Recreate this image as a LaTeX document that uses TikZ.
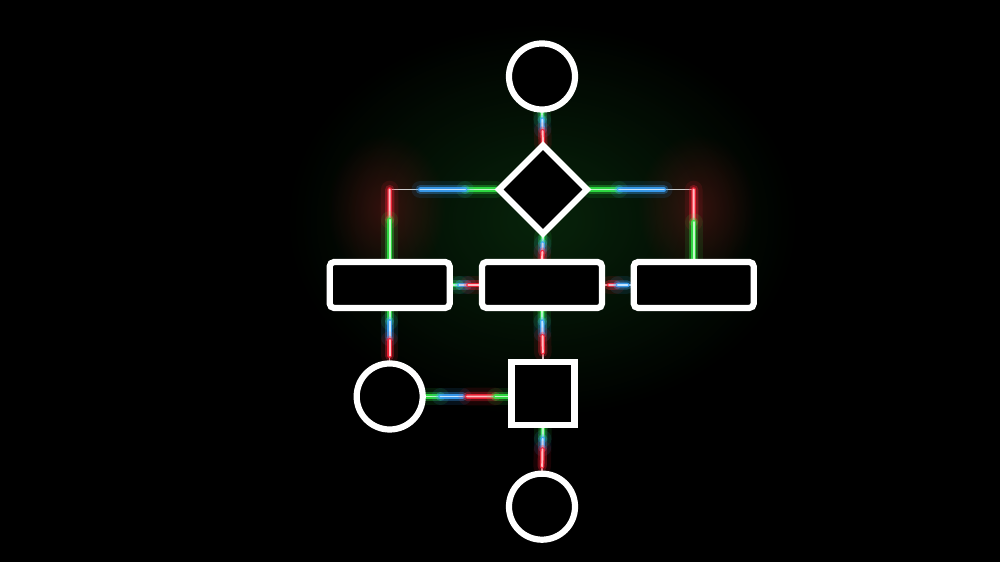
\documentclass[tikz,border=0pt]{standalone}
\usetikzlibrary{shapes.geometric,calc,fadings}
\tikzfading[name=glowfade, inner color=transparent!0, outer color=transparent!100]
\definecolor{ngreen}{RGB}{50,235,70}
\definecolor{nblue}{RGB}{60,165,255}
\definecolor{nred}{RGB}{255,35,55}
\pgfdeclarelayer{bg}
\pgfdeclarelayer{glow}
\pgfsetlayers{bg,glow,main}
\tikzset{
  shapeline/.style={draw=white, line width=0.062cm, fill=black, inner sep=0pt, outer sep=0pt},
  circ/.style={shapeline, circle, minimum size=0.66cm},
  rbox/.style={shapeline, rectangle, rounded corners=0.045cm, minimum width=1.20cm, minimum height=0.46cm},
  sqbox/.style={shapeline, rectangle, minimum size=0.63cm},
  dia/.style={shapeline, diamond, aspect=1, minimum width=0.88cm, minimum height=0.88cm},
  core/.style={draw=white!80!black, line width=0.45pt},
  glowhalo/.style={draw=#1, line width=5pt, opacity=0.10, line cap=round},
  glowwide/.style={draw=#1, line width=2.6pt, opacity=0.30, line cap=round},
  glowmid/.style={draw=#1, line width=1.3pt, opacity=0.85, line cap=round},
  glowcore/.style={draw=#1!30!white, line width=0.55pt, line cap=round},
}
\newcommand\neonseg[5]{%
  \path ($(#1)!#3!(#2)$) coordinate (sa) ($(#1)!#4!(#2)$) coordinate (sb);
  \draw[glowhalo=#5] (sa) -- (sb);
  \draw[glowwide=#5] (sa) -- (sb);
  \draw[glowmid=#5] (sa) -- (sb);
  \draw[glowcore=#5] (sa) -- (sb);
}
\begin{document}
\begin{tikzpicture}[x=0.01cm, y=-0.01cm]
\begin{pgfonlayer}{bg}
  \fill[black] (0,0) rectangle (1000,562);
  \fill[ngreen!50!black, opacity=0.30, path fading=glowfade] (542,220) ellipse [x radius=2.6cm, y radius=2.0cm];
  \fill[nred, opacity=0.20, path fading=glowfade] (386,208) ellipse [x radius=0.6cm, y radius=0.75cm];
  \fill[nred, opacity=0.20, path fading=glowfade] (697,208) ellipse [x radius=0.6cm, y radius=0.75cm];
\end{pgfonlayer}

% nodes
\node[circ]  (top) at (542,76.5) {};
\node[dia]   (dec) at (543,189.5) {};
\node[rbox]  (r1)  at (389.7,285) {};
\node[rbox]  (r2)  at (542,285) {};
\node[rbox]  (r3)  at (693.7,285) {};
\node[circ]  (c2)  at (389.7,396.5) {};
\node[sqbox] (sq)  at (543,393.7) {};
\node[circ]  (c3)  at (542,506.7) {};

\coordinate (cl) at (r1.north |- dec.west);
\coordinate (cr) at (r3.north |- dec.east);
\coordinate (sqw) at (c2.east -| sq.west);

\begin{pgfonlayer}{glow}
  % white cores
  \draw[core] (top.south) -- (dec.north);
  \draw[core] (dec.west) -- (cl) -- (r1.north);
  \draw[core] (dec.east) -- (cr) -- (r3.north);
  \draw[core] (dec.south) -- (dec.south -| r2.north) -- (r2.north);
  \draw[core] (r1.east) -- (r2.west);
  \draw[core] (r2.east) -- (r3.west);
  \draw[core] (r1.south) -- (c2.north);
  \draw[core] (r2.south) -- (r2.south -| sq.north) -- (sq.north);
  \draw[core] (c2.east) -- (sqw);
  \draw[core] (sq.south) -- (sq.south -| c3.north) -- (c3.north);
  % top circle -> decision
  \neonseg{top.south}{dec.north}{0.05}{0.28}{ngreen}
  \neonseg{top.south}{dec.north}{0.28}{0.55}{nblue}
  \neonseg{top.south}{dec.north}{0.60}{0.95}{nred}
  % left branch
  \neonseg{dec.west}{cl}{0.03}{0.31}{ngreen}
  \neonseg{dec.west}{cl}{0.31}{0.72}{nblue}
  \neonseg{cl}{r1.north}{0.0}{0.42}{nred}
  \neonseg{cl}{r1.north}{0.42}{0.99}{ngreen}
  % right branch
  \neonseg{dec.east}{cr}{0.03}{0.30}{ngreen}
  \neonseg{dec.east}{cr}{0.30}{0.72}{nblue}
  \neonseg{cr}{r3.north}{0.0}{0.45}{nred}
  \neonseg{cr}{r3.north}{0.45}{0.99}{ngreen}
  % decision -> middle box
  \neonseg{dec.south}{r2.north}{0.10}{0.35}{ngreen}
  \neonseg{dec.south}{r2.north}{0.35}{0.60}{nblue}
  \neonseg{dec.south}{r2.north}{0.65}{0.95}{nred}
  % box row
  \neonseg{r1.east}{r2.west}{0.05}{0.30}{ngreen}
  \neonseg{r1.east}{r2.west}{0.30}{0.55}{nblue}
  \neonseg{r1.east}{r2.west}{0.58}{0.92}{nred}
  \neonseg{r2.east}{r3.west}{0.22}{0.45}{nred}
  \neonseg{r2.east}{r3.west}{0.50}{0.80}{nblue}
  % left box -> left circle
  \neonseg{r1.south}{c2.north}{0.03}{0.24}{ngreen}
  \neonseg{r1.south}{c2.north}{0.24}{0.53}{nblue}
  \neonseg{r1.south}{c2.north}{0.58}{0.86}{nred}
  % middle box -> square
  \neonseg{r2.south}{sq.north}{0.03}{0.25}{ngreen}
  \neonseg{r2.south}{sq.north}{0.25}{0.47}{nblue}
  \neonseg{r2.south}{sq.north}{0.52}{0.82}{nred}
  % left circle -> square
  \neonseg{c2.east}{sqw}{0.02}{0.20}{ngreen}
  \neonseg{c2.east}{sqw}{0.20}{0.45}{nblue}
  \neonseg{c2.east}{sqw}{0.50}{0.82}{nred}
  \neonseg{c2.east}{sqw}{0.82}{0.99}{ngreen}
  % square -> bottom circle
  \neonseg{sq.south}{c3.north}{0.03}{0.28}{ngreen}
  \neonseg{sq.south}{c3.north}{0.28}{0.46}{nblue}
  \neonseg{sq.south}{c3.north}{0.50}{0.85}{nred}
\end{pgfonlayer}
\end{tikzpicture}
\end{document}
